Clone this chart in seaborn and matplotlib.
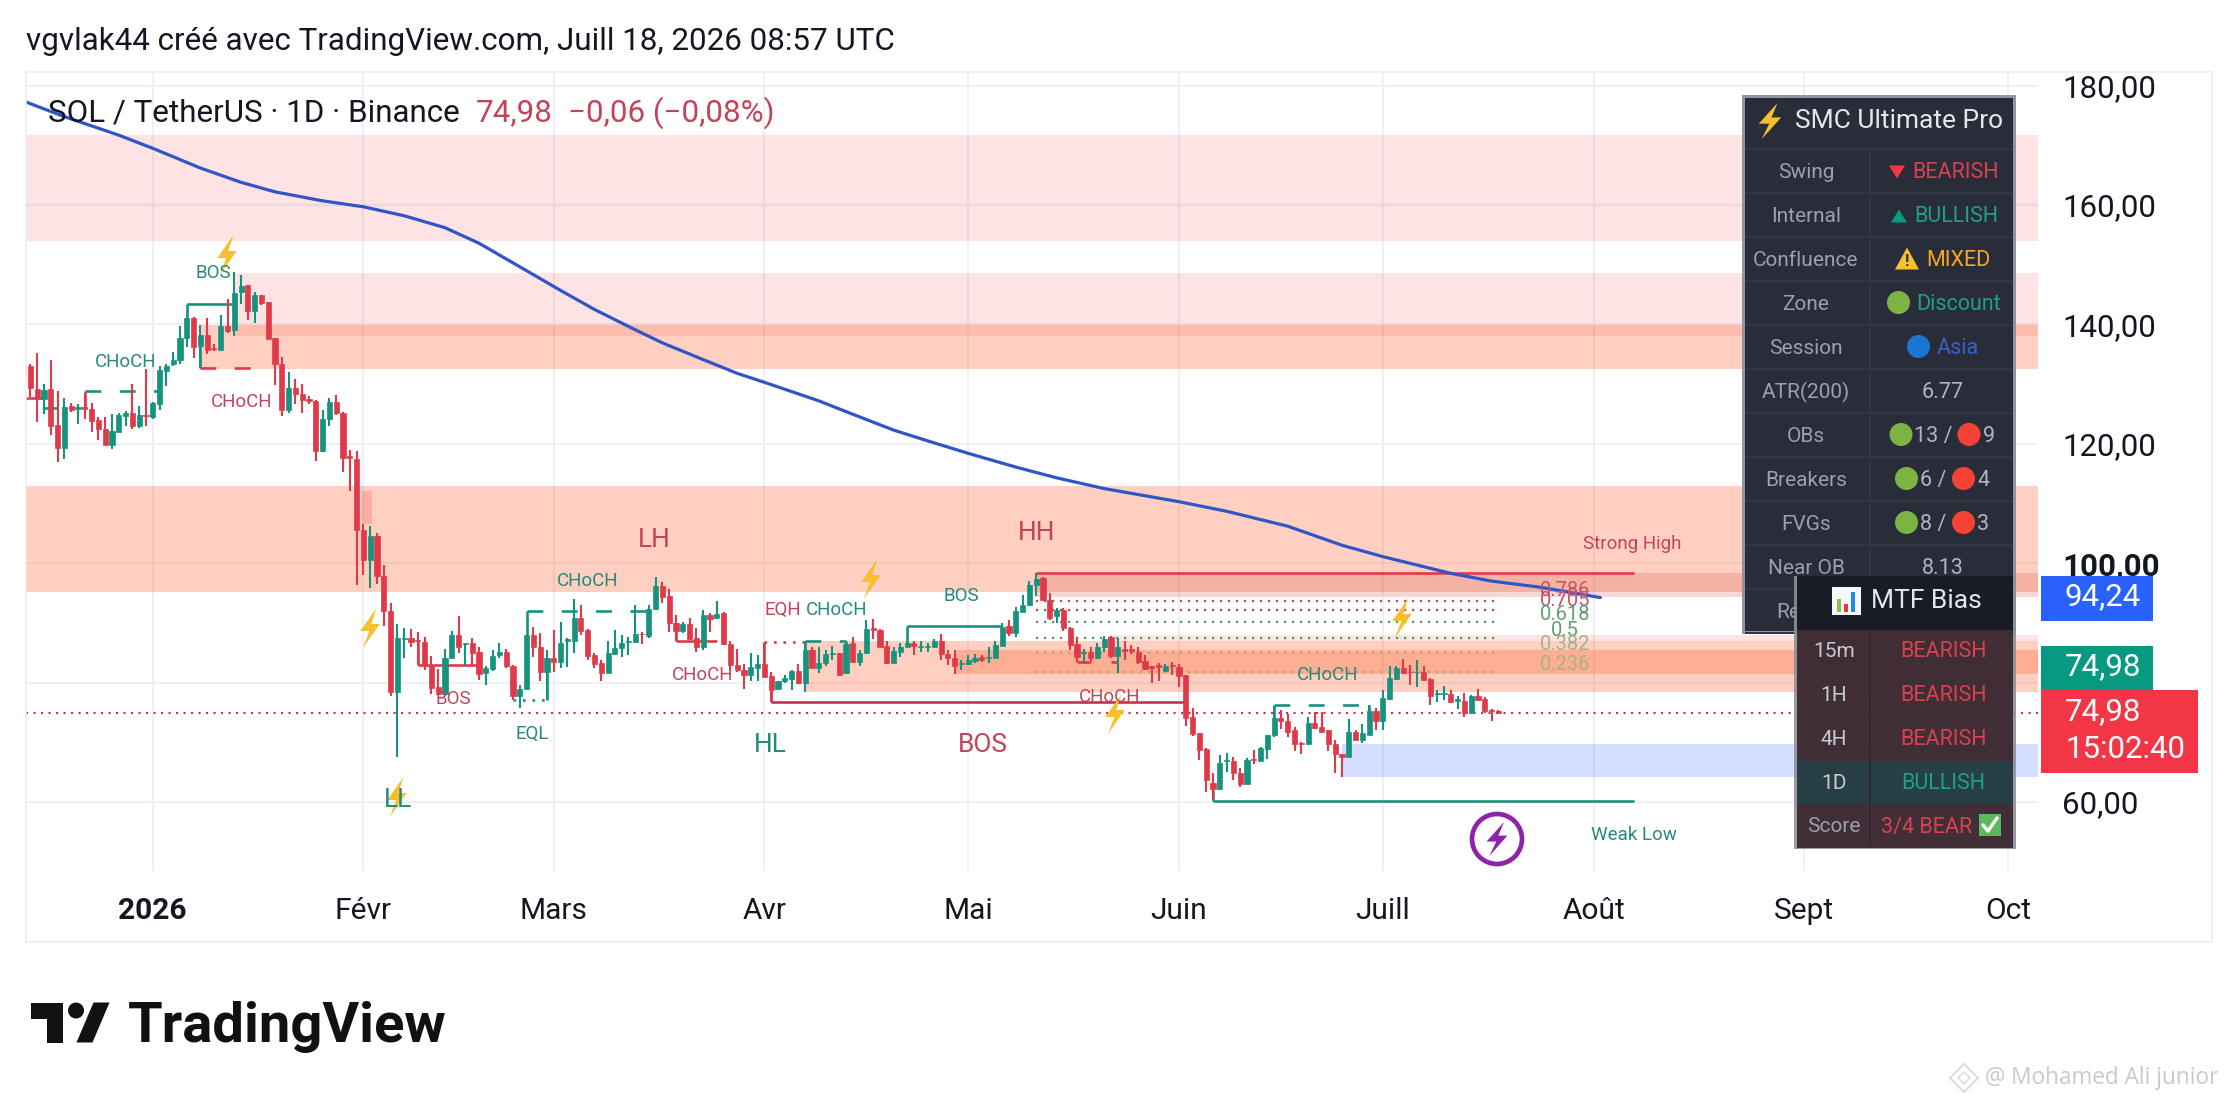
import pandas as pd
import matplotlib
matplotlib.use("Agg")
import matplotlib.pyplot as plt
import matplotlib.dates as mdates
from matplotlib.patches import Rectangle, Polygon, Circle
import seaborn as sns

# Daily candles (13 Dec 2025 -> 18 Jul 2026)
first_day = "2025-12-13"
opens = [133.0, 133.0, 129.1, 127.5, 129.1, 123.2, 119.3, 126.3, 125.9, 126.1, 125.9, 124.0, 122.5, 119.8, 122.0, 124.6, 125.1, 123.0, 124.8,
         124.5, 126.7, 132.2, 133.3, 134.0, 137.8, 141.0, 136.3, 138.3, 136.1, 135.7, 139.7, 139.0, 145.5, 146.6, 142.3, 144.9, 143.7, 137.7, 133.3, 125.6, 129.3, 128.3, 127.5, 127.2, 118.8, 124.1, 127.0, 125.2, 117.9, 117.5,
         105.5, 100.6, 104.6, 97.8, 92.0, 78.4, 87.3, 87.5, 87.1, 86.8, 82.7, 79.2, 78.1, 84.2, 88.0, 86.4, 86.6, 85.1, 81.6, 82.3, 84.7, 85.1, 82.7, 77.8, 78.9, 88.0, 86.0, 81.7,
         84.2, 83.5, 87.0, 86.9, 90.8, 88.8, 84.6, 83.2, 81.6, 84.8, 85.8, 86.8, 86.8, 88.2, 87.8, 92.3, 96.1, 94.5, 89.9, 88.7, 89.8, 87.4, 86.0, 91.4, 90.8, 91.7, 86.5, 83.0, 82.1, 81.3, 82.5,
         83.1, 81.1, 78.9, 80.2, 80.6, 81.9, 80.0, 85.5, 82.4, 83.2, 84.8, 84.9, 81.6, 86.6, 83.5, 84.9, 89.1, 88.8, 86.1, 83.3, 85.2, 86.0, 86.7, 86.0, 86.0, 86.0, 86.9, 84.8, 84.1, 83.1,
         83.1, 83.7, 84.3, 84.1, 84.1, 86.1, 89.4, 88.3, 91.9, 93.0, 96.3, 97.6, 93.9, 91.2, 92.2, 89.2, 86.5, 85.0, 85.2, 84.1, 85.9, 87.6, 84.4, 85.6, 85.6, 85.2, 83.7, 82.7, 83.0, 81.9, 83.0,
         82.6, 81.3, 74.3, 71.5, 68.9, 63.2, 62.2, 66.8, 66.8, 64.9, 63.0, 67.2, 66.8, 68.9, 71.2, 74.0, 73.5, 72.1, 69.9, 69.7, 73.3, 72.5, 72.0, 69.7, 68.0, 67.6, 71.8, 70.3, 71.2, 75.2,
         73.6, 77.2, 80.6, 82.4, 81.8, 81.7, 81.8, 80.6, 78.1, 78.1, 78.1, 77.0, 77.0, 74.9, 77.8, 77.2, 75.4, 75.3]
highs = [133.5, 133.4, 135.2, 130.0, 134.0, 128.8, 127.7, 126.9, 126.6, 128.0, 126.9, 124.5, 124.5, 125.0, 125.2, 125.5, 130.0, 126.4, 132.5,
         127.0, 133.1, 133.4, 135.4, 139.7, 141.0, 141.2, 139.9, 141.0, 136.8, 141.5, 144.2, 148.7, 148.3, 146.6, 145.5, 144.9, 143.8, 137.8, 134.5, 132.0, 130.9, 130.0, 128.0, 127.4, 125.6, 127.7, 128.2, 125.3, 119.0, 118.8,
         106.5, 106.2, 105.0, 99.7, 93.3, 89.8, 89.2, 89.0, 88.5, 87.7, 84.5, 82.3, 85.6, 88.7, 91.1, 86.7, 87.5, 86.0, 82.7, 85.4, 86.6, 85.6, 82.9, 79.6, 88.0, 89.3, 88.3, 85.5,
         88.8, 90.2, 87.4, 94.0, 93.0, 88.9, 85.0, 83.8, 86.9, 88.8, 88.0, 87.7, 93.0, 88.5, 93.0, 97.7, 96.9, 95.6, 91.3, 90.2, 90.8, 89.1, 92.2, 91.7, 93.6, 91.9, 86.9, 85.7, 83.1, 84.9, 84.6,
         86.6, 81.7, 80.3, 81.3, 82.1, 83.1, 87.0, 86.0, 85.9, 85.4, 86.1, 85.0, 86.5, 87.6, 85.5, 90.5, 90.6, 89.0, 87.0, 86.0, 86.7, 86.9, 87.0, 86.9, 86.7, 87.3, 88.1, 85.4, 85.4, 83.8,
         84.6, 84.8, 84.7, 86.0, 86.9, 89.9, 90.5, 92.6, 94.7, 97.0, 98.3, 97.7, 95.0, 92.5, 92.5, 89.3, 87.6, 85.7, 85.9, 86.6, 87.8, 87.8, 87.4, 86.9, 86.3, 86.0, 84.6, 82.8, 83.2, 83.1, 83.4,
         83.1, 81.3, 75.7, 71.6, 69.0, 64.8, 67.9, 68.2, 67.6, 65.7, 67.3, 68.7, 69.2, 71.3, 76.1, 75.4, 74.8, 72.5, 70.0, 74.2, 75.0, 75.0, 72.1, 70.4, 68.0, 73.9, 72.0, 73.1, 76.3, 75.7,
         78.8, 82.7, 82.8, 83.9, 83.0, 83.8, 82.8, 80.7, 78.8, 79.5, 78.8, 77.7, 78.2, 77.9, 79.0, 77.6, 75.6, 75.4]
lows = [130.0, 127.9, 123.6, 125.0, 121.4, 117.0, 117.5, 125.3, 123.4, 124.1, 122.0, 120.6, 119.8, 119.2, 121.9, 123.0, 122.5, 122.7, 123.0,
        124.1, 125.7, 129.7, 133.1, 133.3, 136.2, 134.4, 132.7, 135.0, 135.5, 135.7, 138.5, 138.0, 143.4, 140.8, 140.2, 143.3, 137.6, 129.9, 124.6, 125.2, 126.7, 125.2, 126.6, 117.2, 118.6, 123.0, 124.8, 115.3, 112.1, 96.3,
        98.1, 95.9, 96.5, 89.5, 77.7, 67.6, 84.1, 86.0, 83.0, 82.1, 78.1, 77.9, 77.7, 84.1, 85.0, 82.7, 83.0, 80.5, 79.6, 82.0, 84.2, 82.4, 77.1, 75.7, 78.8, 84.3, 80.3, 77.1,
        81.7, 82.4, 82.6, 84.9, 88.0, 83.8, 82.4, 80.3, 81.6, 84.8, 84.3, 84.6, 86.6, 86.5, 87.4, 92.2, 93.3, 88.5, 87.0, 88.3, 87.1, 85.2, 85.4, 88.5, 90.6, 86.3, 82.1, 81.7, 79.0, 80.2, 80.2,
        81.0, 77.1, 78.8, 79.9, 78.7, 79.8, 78.5, 82.4, 81.6, 82.7, 83.8, 81.3, 81.4, 83.2, 82.7, 84.8, 87.3, 86.0, 83.1, 83.3, 84.3, 85.9, 84.6, 85.1, 85.2, 85.9, 83.8, 82.9, 81.5, 82.1,
        82.9, 83.2, 83.5, 83.3, 83.9, 86.1, 87.8, 87.7, 91.9, 92.8, 94.5, 93.8, 90.5, 89.9, 88.7, 85.5, 83.5, 83.5, 83.7, 83.9, 85.2, 84.1, 81.6, 83.8, 84.8, 83.1, 82.1, 80.0, 80.3, 81.7, 81.3,
        79.2, 72.8, 71.1, 67.1, 61.6, 60.3, 62.0, 65.1, 63.6, 62.5, 63.0, 66.4, 66.8, 67.2, 70.9, 72.2, 70.9, 68.5, 68.1, 69.6, 72.3, 71.8, 68.5, 64.8, 64.2, 67.5, 70.3, 69.9, 71.2, 72.1,
        72.1, 77.1, 80.5, 81.5, 79.6, 79.3, 80.4, 76.3, 76.8, 77.1, 76.6, 75.5, 74.2, 74.8, 77.0, 74.9, 73.5, 74.8]
closes = [132.0, 129.3, 127.5, 129.0, 123.0, 119.3, 126.2, 125.6, 126.1, 125.9, 123.8, 122.4, 119.8, 122.2, 124.8, 125.2, 123.0, 124.8, 124.6,
          126.8, 132.3, 133.1, 134.1, 137.8, 141.0, 136.2, 138.3, 135.7, 135.9, 139.7, 138.9, 145.3, 146.5, 142.2, 144.9, 143.6, 137.6, 133.3, 125.6, 129.4, 128.3, 127.4, 127.2, 118.8, 124.1, 127.0, 125.1, 117.7, 117.7, 105.5,
          100.6, 104.6, 97.8, 92.0, 78.4, 87.4, 87.5, 86.8, 86.9, 82.7, 79.1, 78.1, 84.2, 88.0, 86.0, 86.7, 85.0, 81.4, 82.4, 84.5, 85.2, 82.7, 77.7, 78.9, 88.0, 86.0, 81.7, 84.2,
          83.5, 86.6, 87.3, 90.8, 88.7, 84.5, 83.1, 81.6, 84.9, 85.8, 86.6, 87.0, 88.1, 88.1, 92.3, 96.2, 94.4, 89.9, 88.7, 89.8, 87.3, 85.9, 91.3, 90.7, 91.5, 86.5, 83.0, 82.1, 81.3, 82.6, 83.1,
          81.0, 78.8, 80.3, 80.7, 81.9, 80.0, 85.5, 82.5, 83.2, 84.8, 85.0, 81.3, 86.5, 83.5, 84.9, 88.9, 88.8, 86.0, 83.3, 85.3, 86.0, 86.7, 86.1, 86.1, 86.1, 86.9, 84.8, 84.1, 82.8, 83.3,
          83.8, 84.2, 83.8, 84.3, 86.3, 89.3, 88.3, 92.0, 93.0, 96.3, 97.3, 93.9, 90.8, 92.2, 89.1, 86.3, 84.3, 85.2, 84.1, 86.0, 87.3, 84.4, 85.9, 85.3, 85.3, 83.4, 82.2, 82.4, 82.6, 82.8, 82.8,
          81.1, 74.0, 71.4, 68.7, 63.6, 62.2, 66.5, 67.1, 64.9, 63.0, 67.1, 67.0, 69.0, 71.2, 74.0, 73.5, 71.8, 69.7, 69.7, 73.3, 72.4, 71.8, 69.7, 68.0, 67.6, 71.8, 70.4, 71.5, 75.2, 73.6,
          77.4, 80.7, 82.4, 81.6, 81.7, 81.8, 80.5, 77.7, 78.3, 78.3, 76.7, 77.2, 74.9, 77.8, 77.1, 75.3, 75.2, 74.98]

# 200 period average, read at a few dates
ma_dates = ["2025-12-13", "2025-12-19", "2025-12-27", "2026-01-01", "2026-01-08", "2026-01-14", "2026-01-19", "2026-01-26", "2026-02-01",
            "2026-02-07", "2026-02-13", "2026-02-18", "2026-02-25", "2026-03-02", "2026-03-07", "2026-03-13", "2026-03-17", "2026-03-23",
            "2026-03-28", "2026-04-01", "2026-04-09", "2026-04-13", "2026-04-20", "2026-04-25", "2026-05-01", "2026-05-08", "2026-05-14",
            "2026-05-21", "2026-05-26", "2026-06-01", "2026-06-08", "2026-06-17", "2026-06-25", "2026-07-01", "2026-07-11", "2026-07-17",
            "2026-07-24", "2026-08-02"]
ma_values = [177.4, 174.8, 171.7, 169.5, 166.2, 163.8, 162.2, 160.7, 159.7, 158.2, 156.2, 153.6, 149.0, 145.7, 142.5, 139.1, 136.9, 134.1,
             131.8, 130.3, 127.2, 125.4, 122.3, 120.5, 118.4, 116.1, 114.3, 112.5, 111.5, 110.3, 108.7, 106.2, 103.0, 101.1, 98.3, 97.0,
             96.0, 94.24]

last_price = 74.98
price_ticks = [60, 80, 100, 120, 140, 160, 180]
month_ticks = ["2026-01-01", "2026-02-01", "2026-03-01", "2026-04-01", "2026-05-01", "2026-06-01", "2026-07-01", "2026-08-01", "2026-09-01", "2026-10-01"]
month_labels = ["2026", "Févr", "Mars", "Avr", "Mai", "Juin", "Juill", "Août", "Sept", "Oct"]

# order blocks etc: start date, low, high, colour, alpha
PINK, PEACH, BLUE, DARK = "#f23c3c", "#ff5722", "#2962ff", "#c83c32"
zones = [
    ("2025-12-01", 153.9, 171.7, PINK, 0.14),
    ("2026-01-13", 138.0, 148.6, PINK, 0.14),
    ("2026-01-08", 132.6, 139.9, PEACH, 0.28),
    ("2025-12-01", 95.2, 113.0, PEACH, 0.28),
    ("2026-05-11", 94.4, 98.35, DARK, 0.20),
    ("2026-05-22", 87.0, 88.0, PINK, 0.14),
    ("2026-04-07", 78.5, 87.0, PEACH, 0.28),
    ("2026-04-29", 81.4, 85.5, PEACH, 0.28),
    ("2026-06-25", 64.2, 69.7, BLUE, 0.20),
]
fvg_box = ("2026-02-01", "2026-02-02", 106.6, 112.1)

GREEN, RED = "#16937d", "#e03a4a"
TXT_GREEN, TXT_RED = "#25897b", "#c2445a"

# structure lines: start, end, price start, price end, colour, style
DOT, DASH = (0, (1, 2.6)), (0, (6, 7))
segments = [
    ("2026-01-06", "2026-01-13", 143.4, 143.4, GREEN, "-"), ("2026-01-06", "2026-01-06", 141.0, 143.4, GREEN, "-"),
    ("2026-01-08", "2026-01-18", 132.7, 132.7, RED, DASH), ("2026-01-08", "2026-01-08", 138.3, 132.7, GREEN, "-"),
    ("2025-12-22", "2026-01-02", 128.8, 128.8, GREEN, DASH), ("2025-12-22", "2025-12-22", 126.0, 128.8, RED, "-"),
    ("2025-12-13", "2025-12-16", 127.7, 127.7, RED, "-"), ("2025-12-16", "2025-12-18", 126.0, 126.0, GREEN, "-"),
    ("2026-02-09", "2026-02-18", 82.9, 82.9, RED, "-"), ("2026-02-09", "2026-02-09", 87.0, 82.9, RED, "-"),
    ("2026-02-25", "2026-03-15", 92.05, 92.05, GREEN, DASH), ("2026-02-25", "2026-02-25", 92.05, 88.0, GREEN, "-"),
    ("2026-02-23", "2026-02-28", 77.1, 77.1, GREEN, DOT), ("2026-02-28", "2026-02-28", 81.7, 77.1, GREEN, "-"),
    ("2026-03-19", "2026-03-25", 87.0, 87.0, RED, "-"), ("2026-03-19", "2026-03-19", 89.9, 87.0, RED, "-"),
    ("2026-04-01", "2026-04-07", 86.75, 86.75, RED, DOT), ("2026-04-01", "2026-04-01", 86.75, 83.0, RED, "-"),
    ("2026-04-07", "2026-04-13", 87.0, 87.0, GREEN, DASH), ("2026-04-07", "2026-04-07", 87.0, 85.5, GREEN, "-"), ("2026-04-13", "2026-04-13", 87.0, 86.5, GREEN, "-"),
    ("2026-04-02", "2026-06-02", 76.8, 76.8, "#c2344a", "-"), ("2026-04-02", "2026-04-02", 78.8, 76.8, "#c2344a", "-"),
    ("2026-04-22", "2026-05-06", 89.4, 89.4, GREEN, "-"), ("2026-04-22", "2026-04-22", 89.4, 86.7, GREEN, "-"),
    ("2026-05-11", "2026-08-07", 98.35, 98.35, RED, "-"),
    ("2026-06-06", "2026-08-07", 60.2, 60.2, GREEN, "-"), ("2026-06-06", "2026-06-06", 62.0, 60.2, GREEN, "-"),
    ("2026-06-15", "2026-06-29", 76.2, 76.2, GREEN, DASH), ("2026-06-15", "2026-06-15", 76.2, 74.0, GREEN, "-"), ("2026-06-29", "2026-06-29", 76.2, 75.2, GREEN, "-"),
    ("2026-05-17", "2026-05-19", 83.5, 83.5, RED, "-"), ("2026-05-22", "2026-05-23", 83.5, 83.5, RED, "-"),
]

# fib levels, all start at the May top
fib_prices = [93.7, 92.1, 90.2, 87.5, 85.0, 81.8]
fib_names = ["0.786", "0.705", "0.618", "0.5", "0.382", "0.236"]
fib_line_cols = ["#c2445a", "#c2445a", "#4f9a68", "#4f9a68", "#b5a070", "#b5a070"]
fib_txt_cols = ["#c2556a", "#c2556a", "#5f9f70", "#5f9f70", "#a3b38a", "#abb085"]
fib_txt_y = [589, 599, 613, 628, 642, 663]

# chart labels: text, x px, y px, size, colour
chart_labels = [
    ("BOS", 213, 271, 13.5, TXT_GREEN), ("CHoCH", 126, 360, 13.5, TXT_GREEN), ("CHoCH", 242, 400, 13.5, TXT_RED),
    ("LL", 398, 798, 19, TXT_GREEN), ("BOS", 453, 697, 13.5, TXT_RED), ("LH", 654, 538, 19, TXT_RED),
    ("CHoCH", 588, 579, 13.5, TXT_GREEN), ("EQL", 532, 732, 13.5, TXT_GREEN), ("HL", 770, 743, 19, TXT_GREEN),
    ("BOS", 983, 743, 19, TXT_RED), ("HH", 1037, 531, 19, TXT_RED), ("EQH", 783, 608, 13.5, TXT_RED),
    ("CHoCH", 837, 608, 13.5, TXT_GREEN), ("BOS", 961, 594, 13.5, TXT_GREEN), ("CHoCH", 703, 673, 13.5, TXT_RED),
    ("CHoCH", 1110, 695, 13.5, TXT_RED), ("CHoCH", 1328, 673, 13.5, TXT_GREEN),
    ("Strong High", 1632, 542, 13.5, TXT_RED), ("Weak Low", 1634, 833, 13.5, TXT_GREEN),
]
bolt_spots = [(227, 255), (370, 628), (871, 579), (397, 797), (1115, 714), (1402, 618)]

# the two tables
table_rows = ["Swing", "Internal", "Confluence", "Zone", "Session", "ATR(200)", "OBs", "Breakers", "FVGs", "Near OB", "Refine"]
mtf_rows = ["15m", "1H", "4H", "1D"]
mtf_vals = ["BEARISH", "BEARISH", "BEARISH", "BULLISH"]

df = pd.DataFrame({"date": pd.date_range(first_day, periods=len(opens)), "open": opens, "high": highs, "low": lows, "close": closes})
df["up"] = df["close"] >= df["open"]
df["colour"] = df["up"].map({True: GREEN, False: RED})
df["body_low"] = df[["open", "close"]].min(axis=1)
df["body"] = (df["open"] - df["close"]).abs()
ma_df = pd.DataFrame({"date": pd.to_datetime(ma_dates), "ma": ma_values})

sns.set_theme(style="white")
plt.rcParams["font.family"] = ["Roboto", "DejaVu Sans"]

W, H = 2238, 1103
fig = plt.figure(figsize=(W / 100, H / 100), dpi=100, facecolor="white")
left, right, top, bottom = 26, 2038, 72, 871
ax = fig.add_axes([left / W, 1 - bottom / H, (right - left) / W, (bottom - top) / H])

jan1 = mdates.date2num(pd.Timestamp("2026-01-01"))
xmin, xmax = jan1 - 18.65, jan1 + 277.4
ax.set_xlim(xmin, xmax)
ax.set_ylim(48.44, 182.28)

# grid
ax.set_axisbelow(True)
ax.grid(True, color="#eef0f5", lw=1.5)
sns.despine(ax=ax, left=True, bottom=True, right=True, top=True)
ax.set_xticks(pd.to_datetime(month_ticks))
ax.set_xticklabels(month_labels, fontsize=21.5, color="#131722")
ax.get_xticklabels()[0].set_fontweight("bold")
ax.yaxis.tick_right()
ax.set_yticks(price_ticks)
ax.set_yticklabels([f"{p},00" for p in price_ticks], fontsize=22.5, color="#131722")
ax.get_yticklabels()[2].set_fontweight("bold")
ax.tick_params(axis="x", length=0, pad=19)
ax.tick_params(axis="y", length=0, pad=17.5)
for lab in ax.get_yticklabels():
    lab.set_va("center_baseline")

# zones
for start, low, high, col, alpha in zones:
    x0 = max(mdates.date2num(pd.Timestamp(start)), xmin)
    ax.add_patch(Rectangle((x0, low), xmax - x0, high - low, fc=col, alpha=alpha, lw=0, zorder=1))
x0 = mdates.date2num(pd.Timestamp(fvg_box[0])) - 0.2
x1 = mdates.date2num(pd.Timestamp(fvg_box[1])) + 0.2
ax.add_patch(Rectangle((x0, fvg_box[2]), x1 - x0, fvg_box[3] - fvg_box[2], fc=PINK, alpha=0.22, lw=0, zorder=1))

# structure and fib lines
for start, end, p0, p1, col, style in segments:
    ax.plot(pd.to_datetime([start, end]), [p0, p1], color=col, ls=style, lw=1.9, zorder=2, solid_capstyle="butt")
for price, col in zip(fib_prices, fib_line_cols):
    ax.plot(pd.to_datetime(["2026-05-11", "2026-07-18"]), [price, price], color=col, ls=DOT, lw=1.6, zorder=2)
ax.axhline(last_price, color="#c2344a", ls=DOT, lw=1.5, zorder=2)

# candles
ax.vlines(df["date"], df["low"], df["high"], colors=df["colour"], lw=1.5, zorder=3)
ax.bar(df["date"], df["body"], bottom=df["body_low"], width=0.76, color=df["colour"], edgecolor=df["colour"], lw=0.5, zorder=3)

# moving average
sns.lineplot(data=ma_df, x="date", y="ma", color="#2f55c8", lw=2.3, ax=ax, zorder=4, errorbar=None)
ax.set_xlabel("")
ax.set_ylabel("")
ax.set_xlim(xmin, xmax)

# everything else is placed in pixels on a clear overlay
ov = fig.add_axes([0, 0, 1, 1], facecolor="none")
ov.set_xlim(0, W)
ov.set_ylim(H, 0)
ov.axis("off")


def txt(x, y, s, size=14, col="#131722", ha="center", weight="normal", zorder=7):
    ov.text(x, y + 2, s, fontsize=size, color=col, ha=ha, va="center", fontweight=weight, zorder=zorder)


def box(x0, y0, x1, y1, col, alpha=1.0, z=5):
    ov.add_patch(Rectangle((x0, y0), x1 - x0, y1 - y0, fc=col, ec="none", alpha=alpha, zorder=z))


def bolt(x, y, sx=13, sy=20, col="#f5bf2e", z=6):
    pts = [(0.5, -1), (-0.75, 0.15), (-0.05, 0.15), (-0.55, 1), (0.75, -0.2), (0.1, -0.2)]
    ov.add_patch(Polygon([(x + a * sx, y + b * sy) for a, b in pts], closed=True, fc=col, ec="none", zorder=z))


def dot(x, y, col, r=11.5):
    ov.add_patch(Circle((x, y), r, fc=col, ec="none", zorder=7))


# frame
ov.add_patch(Rectangle((26, 72), 2186, 870, fc="none", ec="#eceef2", lw=1.2, zorder=1))

# header, legend, logo and watermark
txt(26, 39, "vgvlak44 créé avec TradingView.com, Juill 18, 2026 08:57 UTC", 22.6, ha="left")
txt(48, 111, "SOL / TetherUS · 1D · Binance", 22.6, ha="left")
txt(476, 111, "74,98", 22.6, TXT_RED, ha="left")
txt(568, 111, "−0,06 (−0,08%)", 22.6, TXT_RED, ha="left")

logo_col = "#111111"
ov.add_patch(Polygon([(31, 1002.5), (62.5, 1002.5), (62.5, 1042.5), (46.5, 1042.5), (46.5, 1018.5), (31, 1018.5)], closed=True, fc=logo_col, ec="none"))
ov.add_patch(Circle((76, 1010.5), 8, fc=logo_col, ec="none"))
ov.add_patch(Polygon([(93.5, 1002.5), (109.5, 1002.5), (92.5, 1042.5), (76.5, 1042.5)], closed=True, fc=logo_col, ec="none"))
ov.text(128, 1042, "TradingView", fontsize=40.5, color=logo_col, ha="left", va="baseline", fontweight="bold")

ov.text(1985, 1078, "@ Mohamed Ali junior", fontsize=16.3, color="#cacaca", ha="left", va="center", family="Open Sans")
ov.add_patch(Polygon([(1964, 1064), (1978, 1078), (1964, 1092), (1950, 1078)], closed=True, fc="none", ec="#dddddd", lw=1.5))
ov.add_patch(Polygon([(1964, 1072), (1970, 1078), (1964, 1084), (1958, 1078)], closed=True, fc="none", ec="#dddddd", lw=1.2))

# chart labels
for s, x, y, size, col in chart_labels:
    txt(x, y, s, size, col)
for name, y, col in zip(fib_names, fib_txt_y, fib_txt_cols):
    txt(1565, y, name, 14.5, col)
for x, y in bolt_spots:
    bolt(x, y)
ov.add_patch(Circle((1497, 839), 25, fc="none", ec="#8e24aa", lw=3.4, zorder=6))
bolt(1497, 839, 14, 17, "#8e24aa")

# main table
tx0, tx1 = 1742, 2016
box(tx0, 95, tx1, 634, "#8d9099", 0.95, z=5)
box(tx0 + 3, 98, tx1 - 3, 631, "#272b38", 0.98, z=5)
row_h = 44
row_top = 148.5
for i in range(len(table_rows) + 1):
    box(tx0 + 3, row_top + i * row_h - 1, tx1 - 3, row_top + i * row_h + 1, "#323644", z=5)
box(1869, 148, 1871, 631, "#323644", z=5)
bolt(1770, 121, 15, 18, z=7)
txt(1795, 119, "SMC Ultimate Pro", 19, "#e4e6ea", ha="left")
for i, name in enumerate(table_rows):
    txt(1806, 170.5 + i * row_h, name, 15, "#9ba0ab")

VAL_RED, VAL_GREEN = "#d9414f", "#1f9e89"
VAL_SIZE = 15.5
ROW = [170.5 + i * row_h for i in range(len(table_rows))]
ov.add_patch(Polygon([(1889, ROW[0] - 5), (1905, ROW[0] - 5), (1897, ROW[0] + 8)], closed=True, fc="#f23645", ec="none", zorder=7))
txt(1956, ROW[0], "BEARISH", VAL_SIZE, VAL_RED)
ov.add_patch(Polygon([(1891, ROW[1] + 8), (1907, ROW[1] + 8), (1899, ROW[1] - 5)], closed=True, fc="#089981", ec="none", zorder=7))
txt(1956, ROW[1], "BULLISH", VAL_SIZE, VAL_GREEN)
ov.add_patch(Polygon([(1895, ROW[2] + 11), (1919, ROW[2] + 11), (1907, ROW[2] - 11)], closed=True, fc="#f9c02a", ec="none", zorder=7))
txt(1907, ROW[2] + 1, "!", 12, "#272b38", weight="bold", zorder=8)
txt(1958, ROW[2], "MIXED", VAL_SIZE, "#f5a623")
dot(1898.5, ROW[3], "#7cb342")
txt(1958.5, ROW[3], "Discount", VAL_SIZE, VAL_GREEN)
dot(1918.5, ROW[4], "#1976d2")
txt(1958, ROW[4], "Asia", VAL_SIZE, "#3a5fcd")
txt(1943, ROW[5], "6.77", VAL_SIZE, "#b2b5be")
dot(1901, ROW[6], "#7cb342")
txt(1933, ROW[6], "13 /", VAL_SIZE, "#b2b5be")
dot(1969, ROW[6], "#f44336")
txt(1989, ROW[6], "9", VAL_SIZE, "#b2b5be")
for r, a, b in [(7, "6 /", "4"), (8, "8 /", "3")]:
    dot(1906.5, ROW[r], "#7cb342")
    txt(1933, ROW[r], a, VAL_SIZE, "#b2b5be")
    dot(1963.5, ROW[r], "#f44336")
    txt(1983, ROW[r], b, VAL_SIZE, "#b2b5be")
txt(1943, ROW[9], "8.13", VAL_SIZE, "#b2b5be")

# MTF table sits on top of the last row
box(1794, 576, 2016, 849, "#8d9099", 0.9, z=8)
box(1797, 576, 2013, 630, "#131722", 0.95, z=8)
row_cols = ["#3c2830", "#3c2830", "#3c2830", "#1f3a3f", "#3c2830"]
for i, col in enumerate(row_cols):
    box(1797, 630 + i * 43.6, 2013, 630 + (i + 1) * 43.6, col, 0.95, z=8)
box(1869, 630, 1871, 846, "#2e2a34", z=8)
box(1832, 587, 1861, 615, "#f5f7fa", z=9)
box(1837, 599, 1841, 612, "#8bc34a", z=10)
box(1844, 604, 1848, 612, "#e53935", z=10)
box(1851, 592, 1855, 612, "#1e88e5", z=10)
txt(1871, 599, "MTF Bias", 19, "#e4e6ea", ha="left", zorder=10)
for i, (name, val) in enumerate(zip(mtf_rows, mtf_vals)):
    y = 649.6 + i * 44
    txt(1834, y, name, 15, "#c8cad0", zorder=10)
    txt(1943, y, val, VAL_SIZE, VAL_GREEN if val == "BULLISH" else VAL_RED, zorder=10)
txt(1834, 825, "Score", 15, "#9ba0ab", zorder=10)
txt(1927, 825, "3/4 BEAR", VAL_SIZE, VAL_RED, zorder=10)
box(1979, 814, 2001, 836, "#5cb85c", z=10)
ov.plot([1983, 1988, 1997], [825, 831, 818], color="white", lw=2.4, zorder=11)

# price tags
box(2041, 576, 2153, 621, "#2962ff", z=5)
txt(2103, 595, "94,24", 22.5, "white")
box(2041, 646, 2153, 690, "#089981", z=5)
txt(2103, 665, "74,98", 22.5, "white")
box(2041, 690, 2198, 773, "#f23645", z=5)
txt(2065, 710, "74,98", 22.5, "white", ha="left")
txt(2065, 747, "15:02:40", 22.5, "white", ha="left")

plt.savefig("out.png", dpi=100)
